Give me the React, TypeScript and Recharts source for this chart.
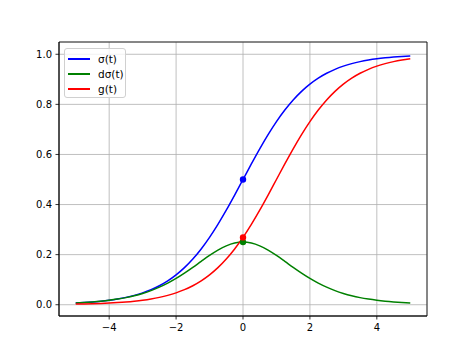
import { ComposedChart, Line, Scatter, XAxis, YAxis, CartesianGrid, ReferenceArea } from "recharts"

const tValues = [
  -5, -4.75, -4.5, -4.25, -4, -3.75, -3.5, -3.25, -3, -2.75, -2.5, -2.25, -2, -1.75, -1.5, -1.25, -1, -0.75, -0.5, -0.25,
  0, 0.25, 0.5, 0.75, 1, 1.25, 1.5, 1.75, 2, 2.25, 2.5, 2.75, 3, 3.25, 3.5, 3.75, 4, 4.25, 4.5, 4.75, 5,
]

const sigma = [
  0.0067, 0.0086, 0.011, 0.0141, 0.018, 0.023, 0.0293, 0.0373, 0.0474, 0.0601, 0.0759, 0.0953, 0.1192, 0.148, 0.1824,
  0.2227, 0.2689, 0.3208, 0.3775, 0.4378, 0.5, 0.5622, 0.6225, 0.6792, 0.7311, 0.7773, 0.8176, 0.852, 0.8808, 0.9047,
  0.9241, 0.9399, 0.9526, 0.9627, 0.9707, 0.977, 0.982, 0.9859, 0.989, 0.9914, 0.9933,
]

const dSigma = [
  0.0066, 0.0085, 0.0109, 0.0139, 0.0177, 0.0225, 0.0284, 0.0359, 0.0452, 0.0565, 0.0701, 0.0862, 0.105, 0.1261, 0.1491,
  0.1731, 0.1966, 0.2179, 0.235, 0.2461, 0.25, 0.2461, 0.235, 0.2179, 0.1966, 0.1731, 0.1491, 0.1261, 0.105, 0.0862,
  0.0701, 0.0565, 0.0452, 0.0359, 0.0284, 0.0225, 0.0177, 0.0139, 0.0109, 0.0085, 0.0066,
]

const gValues = [
  0.0025, 0.0032, 0.0041, 0.0052, 0.0067, 0.0086, 0.011, 0.0141, 0.018, 0.023, 0.0293, 0.0373, 0.0474, 0.0601, 0.0759,
  0.0953, 0.1192, 0.148, 0.1824, 0.2227, 0.2689, 0.3208, 0.3775, 0.4378, 0.5, 0.5622, 0.6225, 0.6792, 0.7311, 0.7773,
  0.8176, 0.852, 0.8808, 0.9047, 0.9241, 0.9399, 0.9526, 0.9627, 0.9707, 0.977, 0.982,
]

const xTicks = [-4, -2, 0, 2, 4]
const yTicks = [0, 0.2, 0.4, 0.6, 0.8, 1.0]
const xDomain = [-5.5, 5.5]
const yDomain = [-0.045, 1.049]

const sigmaAtZero = [{ t: 0, v: 0.5 }]
const dSigmaAtZero = [{ t: 0, v: 0.25 }]
const gAtZero = [{ t: 0, v: 0.2689 }]

const legendItems = [
  { label: "σ(t)", color: "#0000ff" },
  { label: "dσ(t)", color: "#008000" },
  { label: "g(t)", color: "#ff0000" },
]

const data = tValues.map((t, i) => ({ t, sigma: sigma[i], dsigma: dSigma[i], g: gValues[i] }))

const font = "DejaVu Sans, sans-serif"
const tickStyle = { fontSize: 10, fill: "#000", fontFamily: font }
const fmt = (v: number) => String(v).replace("-", "\u2212")

const dot = (color: string) => (p: any) => <circle cx={p.cx} cy={p.cy} r={3.2} fill={color} />

export default function App() {
  return (
    <div style={{ position: "absolute", left: 0, top: 0, width: 474, height: 355, background: "#fff" }}>
      <ComposedChart width={474} height={355} data={data} margin={{ top: 42, right: 47, bottom: 0, left: 0 }}>
        <CartesianGrid stroke="#b0b0b0" strokeWidth={0.8} />
        <XAxis
          dataKey="t"
          type="number"
          domain={xDomain}
          ticks={xTicks}
          allowDataOverflow
          height={39}
          tickSize={3.5}
          tickMargin={4}
          tick={tickStyle}
          tickFormatter={fmt}
          axisLine={{ stroke: "#000", strokeWidth: 0.8 }}
          tickLine={{ stroke: "#000", strokeWidth: 0.8 }}
        />
        <YAxis
          type="number"
          domain={yDomain}
          ticks={yTicks}
          allowDataOverflow
          width={59}
          tickSize={3.5}
          tickMargin={3.5}
          tick={tickStyle}
          tickFormatter={(v: number) => v.toFixed(1)}
          axisLine={{ stroke: "#000", strokeWidth: 0.8 }}
          tickLine={{ stroke: "#000", strokeWidth: 0.8 }}
        />
        <ReferenceArea
          x1={xDomain[0]}
          x2={xDomain[1]}
          y1={yDomain[0]}
          y2={yDomain[1]}
          fill="none"
          fillOpacity={0}
          stroke="#000"
          strokeWidth={0.8}
          ifOverflow="visible"
        />
        <Line type="monotone" dataKey="sigma" stroke="#0000ff" strokeWidth={1.5} dot={false} isAnimationActive={false} />
        <Line type="monotone" dataKey="dsigma" stroke="#008000" strokeWidth={1.5} dot={false} isAnimationActive={false} />
        <Line type="monotone" dataKey="g" stroke="#ff0000" strokeWidth={1.5} dot={false} isAnimationActive={false} />
        <Scatter data={sigmaAtZero} dataKey="v" fill="#0000ff" shape={dot("#0000ff")} isAnimationActive={false} />
        <Scatter data={dSigmaAtZero} dataKey="v" fill="#008000" shape={dot("#008000")} isAnimationActive={false} />
        <Scatter data={gAtZero} dataKey="v" fill="#ff0000" shape={dot("#ff0000")} isAnimationActive={false} />
      </ComposedChart>
      <div
        style={{
          position: "absolute",
          left: 64,
          top: 48,
          width: 62,
          height: 50,
          border: "1px solid #d0d0d0",
          borderRadius: 3,
          background: "rgba(255,255,255,0.8)",
          fontFamily: font,
          fontSize: 10.5,
          paddingTop: 2,
          boxSizing: "border-box",
        }}
      >
        {legendItems.map((it) => (
          <div key={it.label} style={{ display: "flex", alignItems: "center", height: 15 }}>
            <span style={{ display: "inline-block", width: 22, height: 0, borderTop: `2px solid ${it.color}`, marginLeft: 3, marginRight: 8 }} />
            <span>{it.label}</span>
          </div>
        ))}
      </div>
    </div>
  )
}
